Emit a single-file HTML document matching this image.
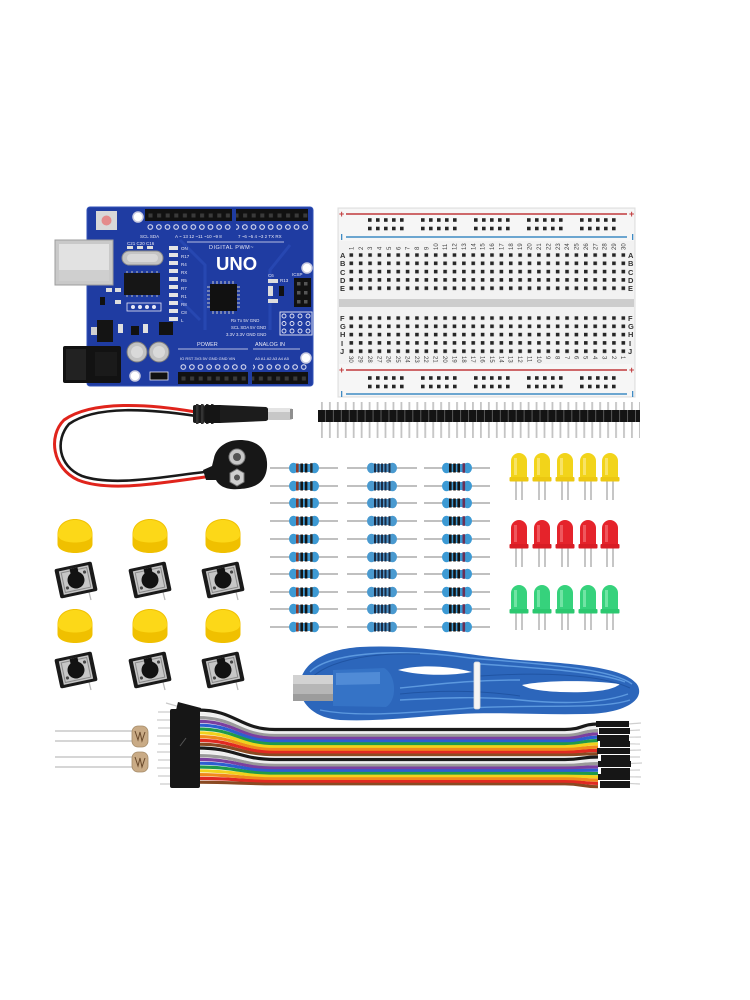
<!DOCTYPE html>
<html><head><meta charset="utf-8"><style>
html,body{margin:0;padding:0;background:#fff;}
svg{display:block;}
text{font-family:"Liberation Sans",sans-serif;}
</style></head><body>
<svg width="750" height="1000" viewBox="0 0 750 1000" xmlns="http://www.w3.org/2000/svg">
<defs>
 <pattern id="bbA" patternUnits="userSpaceOnUse" x="349.5" y="253.2" width="9.38" height="8.3"><rect width="3.6" height="3.6" fill="#262626"/></pattern>
 <pattern id="bbF" patternUnits="userSpaceOnUse" x="349.5" y="316.2" width="9.38" height="8.3"><rect width="3.6" height="3.6" fill="#262626"/></pattern>
 <pattern id="hdrPins" patternUnits="userSpaceOnUse" x="318" y="0" width="7.95" height="1000"><rect x="3" y="0" width="1.8" height="1000" fill="#c4c4c4"/></pattern>
 <pattern id="hdrBand" patternUnits="userSpaceOnUse" x="318" y="0" width="7.95" height="1000"><rect x="0" y="0" width="7.1" height="1000" fill="#141414"/><rect x="7.1" y="0" width="0.85" height="1000" fill="#4a4a4a"/></pattern>
 <pattern id="ardHdr" patternUnits="userSpaceOnUse" x="146" y="211" width="8.6" height="20"><rect x="2.5" y="2.5" width="4" height="4" fill="#3a3a3a"/></pattern>
 <pattern id="ardHdrB" patternUnits="userSpaceOnUse" x="179" y="374" width="8.6" height="20"><rect x="2.5" y="2.5" width="4" height="4" fill="#3a3a3a"/></pattern>
 <pattern id="ardRing" patternUnits="userSpaceOnUse" x="146" y="223" width="8.6" height="10"><circle cx="4.3" cy="4" r="2.3" fill="none" stroke="#e8e8f5" stroke-width="1"/></pattern>
 <pattern id="ardRingB" patternUnits="userSpaceOnUse" x="179" y="363" width="8.6" height="10"><circle cx="4.3" cy="4" r="2.3" fill="none" stroke="#e8e8f5" stroke-width="1"/></pattern>
 <g id="rg">
  <rect x="0" y="0" width="3.6" height="3.6" fill="#262626"/><rect x="8" y="0" width="3.6" height="3.6" fill="#262626"/><rect x="16" y="0" width="3.6" height="3.6" fill="#262626"/><rect x="24" y="0" width="3.6" height="3.6" fill="#262626"/><rect x="32" y="0" width="3.6" height="3.6" fill="#262626"/>
  <rect x="0" y="8.5" width="3.6" height="3.6" fill="#262626"/><rect x="8" y="8.5" width="3.6" height="3.6" fill="#262626"/><rect x="16" y="8.5" width="3.6" height="3.6" fill="#262626"/><rect x="24" y="8.5" width="3.6" height="3.6" fill="#262626"/><rect x="32" y="8.5" width="3.6" height="3.6" fill="#262626"/>
 </g>
 <g id="res1">
  <line x1="-34" y1="0" x2="34" y2="0" stroke="#9a9a9a" stroke-width="1.3"/>
  <rect x="-12" y="-4" width="24" height="8" fill="#3d96cf"/>
  <ellipse cx="-10.5" cy="0" rx="4.5" ry="5.3" fill="#3d9ad4"/>
  <ellipse cx="10.5" cy="0" rx="4.5" ry="5.3" fill="#3d9ad4"/>
  <rect x="-8" y="-4.5" width="2.6" height="9" fill="#8b3a2a"/>
  <rect x="-3.6" y="-4.5" width="2.6" height="9" fill="#151515"/>
  <rect x="0.8" y="-4.5" width="2.6" height="9" fill="#151515"/>
  <rect x="6.2" y="-4.8" width="2.4" height="9.6" fill="#2a2a2a"/>
 </g>
 <g id="res2">
  <line x1="-35" y1="0" x2="35" y2="0" stroke="#9a9a9a" stroke-width="1.3"/>
  <rect x="-12" y="-4" width="24" height="8" fill="#4a8fc4"/>
  <ellipse cx="-10.5" cy="0" rx="4.5" ry="5.3" fill="#4a9ad0"/>
  <ellipse cx="10.5" cy="0" rx="4.5" ry="5.3" fill="#4a9ad0"/>
  <rect x="-8" y="-4.5" width="2" height="9" fill="#1c2d45"/>
  <rect x="-4.5" y="-4.5" width="2" height="9" fill="#1c2d45"/>
  <rect x="-1" y="-4.5" width="2" height="9" fill="#1c2d45"/>
  <rect x="2.5" y="-4.5" width="2" height="9" fill="#1c2d45"/>
  <rect x="6.5" y="-4.8" width="2" height="9.6" fill="#1c2d45"/>
 </g>
 <g id="res3">
  <line x1="-33" y1="0" x2="33" y2="0" stroke="#9a9a9a" stroke-width="1.3"/>
  <rect x="-12" y="-4" width="24" height="8" fill="#3d96cf"/>
  <ellipse cx="-10.5" cy="0" rx="4.5" ry="5.3" fill="#3d9ad4"/>
  <ellipse cx="10.5" cy="0" rx="4.5" ry="5.3" fill="#3d9ad4"/>
  <rect x="-8" y="-4.5" width="2.6" height="9" fill="#151515"/>
  <rect x="-3.8" y="-4.5" width="2.6" height="9" fill="#151515"/>
  <rect x="0.4" y="-4.5" width="2.6" height="9" fill="#151515"/>
  <rect x="5.5" y="-4.8" width="2.6" height="9.6" fill="#6a2f55"/>
 </g>
 <g id="ledY">
  <line x1="-3" y1="28" x2="-3" y2="47" stroke="#a8a8a8" stroke-width="1.3"/>
  <line x1="3" y1="28" x2="3" y2="47" stroke="#a8a8a8" stroke-width="1.3"/>
  <path d="M-8,27 V8 A8,8 0 0 1 8,8 V27 Z" fill="#f2d41a"/>
  <rect x="-9.5" y="24" width="19" height="4.5" rx="1" fill="#ecc812"/>
  <rect x="-5" y="5" width="3" height="17" fill="#fbea86" opacity=".7"/>
 </g>
 <g id="ledR">
  <line x1="-3" y1="28" x2="-3" y2="47" stroke="#a8a8a8" stroke-width="1.3"/>
  <line x1="3" y1="28" x2="3" y2="47" stroke="#a8a8a8" stroke-width="1.3"/>
  <path d="M-8,27 V8 A8,8 0 0 1 8,8 V27 Z" fill="#e5232b"/>
  <rect x="-9.5" y="24" width="19" height="4.5" rx="1" fill="#d81d25"/>
  <rect x="-5" y="5" width="3" height="17" fill="#f57a7e" opacity=".6"/>
 </g>
 <g id="ledG">
  <line x1="-3" y1="28" x2="-3" y2="45" stroke="#a8a8a8" stroke-width="1.3"/>
  <line x1="3" y1="28" x2="3" y2="45" stroke="#a8a8a8" stroke-width="1.3"/>
  <path d="M-8,27 V8 A8,8 0 0 1 8,8 V27 Z" fill="#36d27c"/>
  <rect x="-9.5" y="24" width="19" height="4.5" rx="1" fill="#2cc870"/>
  <rect x="-5" y="5" width="3" height="17" fill="#9af0c0" opacity=".6"/>
 </g>
 <g id="cap">
  <path d="M-17.5,-2 C-17.5,-22 17.5,-22 17.5,-2 L17.5,8 C17.5,20 -17.5,20 -17.5,8 Z" fill="#f0c000"/>
  <path d="M-17,-1 C-17,-21 17,-21 17,-1 C17,9 -17,9 -17,-1 Z" fill="#fcd818"/>
 </g>
 <g id="sw">
  <line x1="13" y1="12" x2="15" y2="20" stroke="#bbb" stroke-width="1.3"/>
  <line x1="-12" y1="13" x2="-11" y2="18" stroke="#bbb" stroke-width="1.3"/>
  <g transform="rotate(-12)">
   <rect x="-19" y="-15" width="38" height="30" rx="2" fill="#1a1a1a"/>
   <rect x="-15" y="-12" width="30" height="24" fill="#c6c6c6"/>
   <rect x="-13" y="-10" width="26" height="20" fill="none" stroke="#8a8a8a" stroke-width="1"/>
   <circle cx="0" cy="0" r="8.5" fill="#121212"/>
   <rect x="-4" y="-12" width="8" height="6" fill="#121212"/>
   <circle cx="-10" cy="6" r="1.6" fill="#444"/>
   <circle cx="10" cy="-6" r="1.6" fill="#444"/>
  </g>
 </g>
</defs>

<rect x="0" y="0" width="750" height="1000" fill="#fff"/>

<!-- ============ ARDUINO ============ -->
<g>
 <rect x="87" y="207" width="226" height="179" rx="3" fill="#1f3ca2" stroke="#3152b8" stroke-width="1"/>
 <path d="M180,240 L205,265 L205,330 M290,245 L270,270 L270,330 M180,300 L200,320" stroke="#2b4cb8" stroke-width="3" fill="none" opacity=".7"/>
 <circle cx="138" cy="217" r="5" fill="#fff" stroke="#c9cbe0" stroke-width="1.5"/>
 <circle cx="307" cy="268" r="5" fill="#fff" stroke="#c9cbe0" stroke-width="1.5"/>
 <circle cx="306" cy="358" r="5" fill="#fff" stroke="#c9cbe0" stroke-width="1.5"/>
 <circle cx="135" cy="376" r="5" fill="#fff" stroke="#c9cbe0" stroke-width="1.5"/>
 <rect x="96" y="211" width="21" height="19" fill="#d8d8d8"/>
 <circle cx="106.5" cy="220.5" r="5" fill="#e48b8b"/>
 <rect x="145" y="209" width="87" height="12" fill="#111"/>
 <rect x="145" y="209" width="87" height="12" fill="url(#ardHdr)"/>
 <rect x="236" y="209" width="72" height="12" fill="#111"/>
 <rect x="236" y="209" width="72" height="12" fill="url(#ardHdr)"/>
 <rect x="146" y="223" width="86" height="9" fill="url(#ardRing)"/>
 <rect x="236" y="223" width="72" height="9" fill="url(#ardRing)"/>
 <text x="140" y="238" font-size="4.5" fill="#e8e8f5">SCL SDA</text>
 <text x="175" y="238" font-size="4.5" fill="#e8e8f5">A  ~  13  12  ~11 ~10 ~9  8</text>
 <text x="238" y="238" font-size="4.5" fill="#e8e8f5">7 ~6 ~5  4 ~3  2  TX RX</text>
 <line x1="187" y1="242" x2="284" y2="242" stroke="#e8e8f5" stroke-width="0.8"/>
 <text x="209" y="249" font-size="5.5" fill="#e8e8f5" letter-spacing="0.5">DIGITAL PWM~</text>
 <text x="216" y="270" font-size="18.5" font-weight="bold" fill="#ffffff">UNO</text>
 <rect x="55" y="240" width="58" height="45" fill="#c9c9c9" stroke="#9d9d9d"/>
 <rect x="59" y="244" width="50" height="37" fill="#e2e2e2"/>
 <rect x="59" y="270" width="50" height="11" fill="#cfcfcf"/>
 <text x="127" y="245" font-size="4.5" fill="#e8e8f5">C21 C20 C16</text>
 <rect x="127" y="246" width="6" height="3" fill="#ddd"/><rect x="137" y="246" width="6" height="3" fill="#ddd"/><rect x="147" y="246" width="6" height="3" fill="#ddd"/>
 <rect x="122" y="251" width="41" height="14" rx="7" fill="#c4c4c4" stroke="#8a8a8a"/>
 <rect x="127" y="254" width="31" height="8" rx="4" fill="#d8d8d8"/>
 <rect x="124" y="273" width="36" height="22" fill="#161616"/>
 <g stroke="#bbb" stroke-width="1">
  <line x1="127" y1="271" x2="127" y2="273"/><line x1="132" y1="271" x2="132" y2="273"/><line x1="137" y1="271" x2="137" y2="273"/><line x1="142" y1="271" x2="142" y2="273"/><line x1="147" y1="271" x2="147" y2="273"/><line x1="152" y1="271" x2="152" y2="273"/><line x1="157" y1="271" x2="157" y2="273"/>
  <line x1="127" y1="295" x2="127" y2="297"/><line x1="132" y1="295" x2="132" y2="297"/><line x1="137" y1="295" x2="137" y2="297"/><line x1="142" y1="295" x2="142" y2="297"/><line x1="147" y1="295" x2="147" y2="297"/><line x1="152" y1="295" x2="152" y2="297"/><line x1="157" y1="295" x2="157" y2="297"/>
 </g>
 <g fill="#e4e4e4">
  <rect x="169" y="246" width="9" height="4"/><rect x="169" y="253" width="9" height="4"/><rect x="169" y="261" width="9" height="4"/><rect x="169" y="269" width="9" height="4"/><rect x="169" y="277" width="9" height="4"/><rect x="169" y="285" width="9" height="4"/><rect x="169" y="293" width="9" height="4"/><rect x="169" y="301" width="9" height="4"/><rect x="169" y="309" width="9" height="4"/><rect x="169" y="317" width="9" height="4"/>
 </g>
 <text x="181" y="250" font-size="4.5" fill="#e8e8f5">ON</text>
 <text x="181" y="258" font-size="4.5" fill="#e8e8f5">R17</text>
 <text x="181" y="266" font-size="4.5" fill="#e8e8f5">R4</text>
 <text x="181" y="274" font-size="4.5" fill="#e8e8f5">RX</text>
 <text x="181" y="282" font-size="4.5" fill="#e8e8f5">R5</text>
 <text x="181" y="290" font-size="4.5" fill="#e8e8f5">R7</text>
 <text x="181" y="298" font-size="4.5" fill="#e8e8f5">R1</text>
 <text x="181" y="306" font-size="4.5" fill="#e8e8f5">R8</text>
 <text x="181" y="314" font-size="4.5" fill="#e8e8f5">C8</text>
 <text x="181" y="322" font-size="4.5" fill="#e8e8f5">L</text>
 <rect x="106" y="288" width="6" height="4" fill="#ddd"/><rect x="115" y="288" width="6" height="4" fill="#ddd"/>
 <rect x="100" y="297" width="5" height="8" fill="#111"/><rect x="115" y="300" width="6" height="4" fill="#ddd"/>
 <rect x="97" y="320" width="16" height="22" fill="#141414"/>
 <rect x="91" y="327" width="6" height="8" fill="#d0d0d0"/>
 <rect x="127" y="303" width="34" height="8" fill="none" stroke="#e8e8f5" stroke-width="0.8"/>
 <circle cx="133" cy="307" r="2" fill="#e8e8f5"/><circle cx="140" cy="307" r="2" fill="#e8e8f5"/><circle cx="147" cy="307" r="2" fill="#e8e8f5"/><circle cx="154" cy="307" r="2" fill="#e8e8f5"/>
 <rect x="118" y="324" width="5" height="9" fill="#e0e0e0"/>
 <rect x="131" y="326" width="8" height="9" fill="#111"/>
 <rect x="143" y="324" width="5" height="9" fill="#e0e0e0"/>
 <rect x="159" y="322" width="14" height="13" fill="#121212"/>
 <g stroke="#c8c8c8" stroke-width="1">
  <line x1="213" y1="281" x2="213" y2="314"/><line x1="217" y1="281" x2="217" y2="314"/><line x1="221" y1="281" x2="221" y2="314"/><line x1="225" y1="281" x2="225" y2="314"/><line x1="229" y1="281" x2="229" y2="314"/><line x1="233" y1="281" x2="233" y2="314"/>
  <line x1="207" y1="287" x2="240" y2="287"/><line x1="207" y1="291" x2="240" y2="291"/><line x1="207" y1="295" x2="240" y2="295"/><line x1="207" y1="299" x2="240" y2="299"/><line x1="207" y1="303" x2="240" y2="303"/><line x1="207" y1="307" x2="240" y2="307"/>
 </g>
 <rect x="210" y="284" width="27" height="27" fill="#111"/>
 <text x="268" y="277" font-size="4.5" fill="#e8e8f5">C6</text>
 <rect x="268" y="279" width="10" height="4" fill="#ddd"/>
 <text x="280" y="282" font-size="4.5" fill="#e8e8f5">R13</text>
 <rect x="268" y="286" width="5" height="10" fill="#ddd"/><rect x="279" y="286" width="5" height="10" fill="#111"/>
 <rect x="268" y="299" width="10" height="4" fill="#ddd"/>
 <text x="292" y="276" font-size="4.5" fill="#e8e8f5">ICSP</text>
 <rect x="294" y="278" width="17" height="29" fill="#111"/>
 <rect x="297" y="282" width="3.5" height="3.5" fill="#555"/><rect x="304" y="282" width="3.5" height="3.5" fill="#555"/>
 <rect x="297" y="291" width="3.5" height="3.5" fill="#555"/><rect x="304" y="291" width="3.5" height="3.5" fill="#555"/>
 <rect x="297" y="300" width="3.5" height="3.5" fill="#555"/><rect x="304" y="300" width="3.5" height="3.5" fill="#555"/>
 <g fill="none" stroke="#e8e8f5" stroke-width="0.9">
  <rect x="280" y="312" width="32" height="23"/>
  <circle cx="284" cy="316" r="2"/><circle cx="292" cy="316" r="2"/><circle cx="300" cy="316" r="2"/><circle cx="308" cy="316" r="2"/>
  <circle cx="284" cy="323.5" r="2"/><circle cx="292" cy="323.5" r="2"/><circle cx="300" cy="323.5" r="2"/><circle cx="308" cy="323.5" r="2"/>
  <circle cx="284" cy="331" r="2"/><circle cx="292" cy="331" r="2"/><circle cx="300" cy="331" r="2"/><circle cx="308" cy="331" r="2"/>
 </g>
 <text x="231" y="322" font-size="4.3" fill="#e8e8f5">Rx  Tx  5V  GND</text>
 <text x="231" y="329" font-size="4.3" fill="#e8e8f5">SCL SDA 5V GND</text>
 <text x="226" y="336" font-size="4.3" fill="#e8e8f5">3.3V 3.3V GND GND</text>
 <circle cx="137" cy="352" r="10" fill="#c2c2c2" stroke="#7c7c7c"/>
 <circle cx="137" cy="352" r="6" fill="#d9d9d9"/>
 <circle cx="159" cy="352" r="10" fill="#c2c2c2" stroke="#7c7c7c"/>
 <circle cx="159" cy="352" r="6" fill="#d9d9d9"/>
 <rect x="150" y="372" width="18" height="8" fill="#111" stroke="#e8e8f5" stroke-width="0.8"/>
 <text x="197" y="346" font-size="5.5" fill="#e8e8f5">POWER</text>
 <line x1="178" y1="349" x2="248" y2="349" stroke="#e8e8f5" stroke-width="0.8"/>
 <text x="255" y="346" font-size="5.5" fill="#e8e8f5">ANALOG IN</text>
 <line x1="253" y1="349" x2="300" y2="349" stroke="#e8e8f5" stroke-width="0.8"/>
 <text x="180" y="360" font-size="4" fill="#e8e8f5">    IO  RST 3V3 5V GND GND VIN</text>
 <text x="255" y="360" font-size="4" fill="#e8e8f5">A0 A1 A2 A3 A4 A5</text>
 <rect x="179" y="363" width="69" height="9" fill="url(#ardRingB)"/>
 <rect x="253" y="363" width="55" height="9" fill="url(#ardRingB)"/>
 <rect x="178" y="372" width="70" height="12" fill="#111"/>
 <rect x="178" y="372" width="70" height="12" fill="url(#ardHdrB)"/>
 <rect x="252" y="372" width="56" height="12" fill="#111"/>
 <rect x="252" y="372" width="56" height="12" fill="url(#ardHdrB)"/>
 <rect x="63" y="346" width="58" height="37" rx="2" fill="#121212"/>
 <rect x="66" y="349" width="20" height="31" fill="#222"/>
 <rect x="95" y="352" width="22" height="24" fill="#1a1a1a"/>
</g>

<!-- ============ BREADBOARD ============ -->
<g>
 <rect x="338" y="208" width="297" height="189" fill="#f2f2f2" stroke="#dcdcdc"/>
 <rect x="339" y="209" width="295" height="32" fill="#f6f6f6"/>
 <rect x="339" y="364" width="295" height="32" fill="#f6f6f6"/>
 <line x1="346" y1="214" x2="627" y2="214" stroke="#c0393b" stroke-width="1.6"/>
 <line x1="346" y1="237" x2="627" y2="237" stroke="#3f8bc4" stroke-width="1.6"/>
 <line x1="346" y1="370" x2="627" y2="370" stroke="#c0393b" stroke-width="1.6"/>
 <line x1="346" y1="394" x2="627" y2="394" stroke="#3f8bc4" stroke-width="1.6"/>
 <text x="339" y="217" font-size="9" fill="#c0393b" font-weight="bold">+</text>
 <text x="629" y="217" font-size="9" fill="#c0393b" font-weight="bold">+</text>
 <text x="339" y="373" font-size="9" fill="#c0393b" font-weight="bold">+</text>
 <text x="629" y="373" font-size="9" fill="#c0393b" font-weight="bold">+</text>
 <rect x="341" y="234" width="1.3" height="6" fill="#3f8bc4"/><rect x="632" y="234" width="1.3" height="6" fill="#3f8bc4"/>
 <rect x="341" y="391" width="1.3" height="6" fill="#3f8bc4"/><rect x="632" y="391" width="1.3" height="6" fill="#3f8bc4"/>
 <use href="#rg" x="368" y="218.2"/><use href="#rg" x="421" y="218.2"/><use href="#rg" x="474" y="218.2"/><use href="#rg" x="527" y="218.2"/><use href="#rg" x="580" y="218.2"/>
 <use href="#rg" x="368" y="376.2"/><use href="#rg" x="421" y="376.2"/><use href="#rg" x="474" y="376.2"/><use href="#rg" x="527" y="376.2"/><use href="#rg" x="580" y="376.2"/>
 <rect x="349.5" y="253.2" width="280" height="40" fill="url(#bbA)"/>
 <rect x="349.5" y="316.2" width="280" height="40" fill="url(#bbF)"/>
 <rect x="339" y="299" width="295" height="8" fill="#cdcdcd"/>
 <g font-size="7.5" fill="#333" font-weight="bold">
  <text x="340" y="258">A</text><text x="340" y="266">B</text><text x="340" y="275">C</text><text x="340" y="283">D</text><text x="340" y="291">E</text>
  <text x="628" y="258">A</text><text x="628" y="266">B</text><text x="628" y="275">C</text><text x="628" y="283">D</text><text x="628" y="291">E</text>
  <text x="340" y="321">F</text><text x="340" y="329">G</text><text x="340" y="337">H</text><text x="341" y="346">I</text><text x="340" y="354">J</text>
  <text x="628" y="321">F</text><text x="628" y="329">G</text><text x="628" y="337">H</text><text x="629" y="346">I</text><text x="628" y="354">J</text>
 </g>
 <g font-size="6" fill="#444">
  <text transform="translate(353.4,250) rotate(-90)">1</text>
  <text transform="translate(362.8,250) rotate(-90)">2</text>
  <text transform="translate(372.2,250) rotate(-90)">3</text>
  <text transform="translate(381.5,250) rotate(-90)">4</text>
  <text transform="translate(390.9,250) rotate(-90)">5</text>
  <text transform="translate(400.3,250) rotate(-90)">6</text>
  <text transform="translate(409.7,250) rotate(-90)">7</text>
  <text transform="translate(419.0,250) rotate(-90)">8</text>
  <text transform="translate(428.4,250) rotate(-90)">9</text>
  <text transform="translate(437.8,250) rotate(-90)">10</text>
  <text transform="translate(447.2,250) rotate(-90)">11</text>
  <text transform="translate(456.6,250) rotate(-90)">12</text>
  <text transform="translate(466.0,250) rotate(-90)">13</text>
  <text transform="translate(475.3,250) rotate(-90)">14</text>
  <text transform="translate(484.7,250) rotate(-90)">15</text>
  <text transform="translate(494.1,250) rotate(-90)">16</text>
  <text transform="translate(503.5,250) rotate(-90)">17</text>
  <text transform="translate(512.9,250) rotate(-90)">18</text>
  <text transform="translate(522.2,250) rotate(-90)">19</text>
  <text transform="translate(531.6,250) rotate(-90)">20</text>
  <text transform="translate(541.0,250) rotate(-90)">21</text>
  <text transform="translate(550.4,250) rotate(-90)">22</text>
  <text transform="translate(559.8,250) rotate(-90)">23</text>
  <text transform="translate(569.1,250) rotate(-90)">24</text>
  <text transform="translate(578.5,250) rotate(-90)">25</text>
  <text transform="translate(587.9,250) rotate(-90)">26</text>
  <text transform="translate(597.3,250) rotate(-90)">27</text>
  <text transform="translate(606.7,250) rotate(-90)">28</text>
  <text transform="translate(616.0,250) rotate(-90)">29</text>
  <text transform="translate(625.4,250) rotate(-90)">30</text>
  <text transform="translate(349.2,356) rotate(90)">30</text>
  <text transform="translate(358.6,356) rotate(90)">29</text>
  <text transform="translate(368.0,356) rotate(90)">28</text>
  <text transform="translate(377.3,356) rotate(90)">27</text>
  <text transform="translate(386.7,356) rotate(90)">26</text>
  <text transform="translate(396.1,356) rotate(90)">25</text>
  <text transform="translate(405.5,356) rotate(90)">24</text>
  <text transform="translate(414.8,356) rotate(90)">23</text>
  <text transform="translate(424.2,356) rotate(90)">22</text>
  <text transform="translate(433.6,356) rotate(90)">21</text>
  <text transform="translate(443.0,356) rotate(90)">20</text>
  <text transform="translate(452.4,356) rotate(90)">19</text>
  <text transform="translate(461.8,356) rotate(90)">18</text>
  <text transform="translate(471.1,356) rotate(90)">17</text>
  <text transform="translate(480.5,356) rotate(90)">16</text>
  <text transform="translate(489.9,356) rotate(90)">15</text>
  <text transform="translate(499.3,356) rotate(90)">14</text>
  <text transform="translate(508.7,356) rotate(90)">13</text>
  <text transform="translate(518.0,356) rotate(90)">12</text>
  <text transform="translate(527.4,356) rotate(90)">11</text>
  <text transform="translate(536.8,356) rotate(90)">10</text>
  <text transform="translate(546.2,356) rotate(90)">9</text>
  <text transform="translate(555.6,356) rotate(90)">8</text>
  <text transform="translate(564.9,356) rotate(90)">7</text>
  <text transform="translate(574.3,356) rotate(90)">6</text>
  <text transform="translate(583.7,356) rotate(90)">5</text>
  <text transform="translate(593.1,356) rotate(90)">4</text>
  <text transform="translate(602.5,356) rotate(90)">3</text>
  <text transform="translate(611.8,356) rotate(90)">2</text>
  <text transform="translate(621.2,356) rotate(90)">1</text>
 </g>
</g>

<!-- ============ PIN HEADER ============ -->
<rect x="318" y="402" width="322" height="36" fill="url(#hdrPins)"/>
<rect x="318" y="410" width="322" height="12" fill="url(#hdrBand)"/>

<!-- ============ BATTERY CLIP ============ -->
<g fill="none" stroke-linecap="round">
 <path d="M196,412 C150,404 92,400 64,420 C48,436 52,468 78,480 C112,494 176,480 214,476" stroke="#e0241c" stroke-width="3"/>
 <path d="M196,416 C150,409 96,405 69,424 C55,440 58,466 82,476 C116,488 178,474 214,471" stroke="#1a1a1a" stroke-width="2.6"/>
</g>
<g>
 <rect x="193" y="405" width="12" height="18" rx="2" fill="#1a1a1a"/>
 <rect x="196" y="404" width="2.5" height="20" fill="#333"/><rect x="201" y="404" width="2.5" height="20" fill="#333"/><rect x="206" y="404" width="2.5" height="20" fill="#333"/><rect x="211" y="404" width="2.5" height="20" fill="#333"/>
 <rect x="205" y="405" width="16" height="18" fill="#151515"/>
 <path d="M220,405 L266,407 C270,408 271,420 266,421 L220,423 Z" fill="#1c1c1c"/>
 <rect x="268" y="408" width="24" height="12" rx="1.5" fill="#c7c7c7"/>
 <rect x="268" y="408" width="24" height="4" fill="#e4e4e4"/>
 <rect x="290" y="409" width="3" height="10" fill="#8f8f8f"/>
 <path d="M212,466 L203,470 L206,480 L216,480 C220,488 230,490 240,489 C260,488 268,478 267,462 C266,448 256,440 240,440 C226,440 216,448 214,458 Z" fill="#171717"/>
 <circle cx="237" cy="457" r="8" fill="#c8c8c8" stroke="#7a7a7a"/>
 <circle cx="237" cy="457" r="4" fill="#555"/>
 <polygon points="237,469 244,473 244,482 237,486 230,482 230,473" fill="#cfcfcf" stroke="#777"/>
 <circle cx="237" cy="477.5" r="3" fill="#555"/>
</g>

<!-- ============ RESISTORS ============ -->
<g>
 <use href="#res1" x="304" y="468"/><use href="#res1" x="304" y="486"/><use href="#res1" x="304" y="503"/><use href="#res1" x="304" y="521"/><use href="#res1" x="304" y="539"/><use href="#res1" x="304" y="557"/><use href="#res1" x="304" y="574"/><use href="#res1" x="304" y="592"/><use href="#res1" x="304" y="609"/><use href="#res1" x="304" y="627"/>
 <use href="#res2" x="382" y="468"/><use href="#res2" x="382" y="486"/><use href="#res2" x="382" y="503"/><use href="#res2" x="382" y="521"/><use href="#res2" x="382" y="539"/><use href="#res2" x="382" y="557"/><use href="#res2" x="382" y="574"/><use href="#res2" x="382" y="592"/><use href="#res2" x="382" y="609"/><use href="#res2" x="382" y="627"/>
 <use href="#res3" x="457" y="468"/><use href="#res3" x="457" y="486"/><use href="#res3" x="457" y="503"/><use href="#res3" x="457" y="521"/><use href="#res3" x="457" y="539"/><use href="#res3" x="457" y="557"/><use href="#res3" x="457" y="574"/><use href="#res3" x="457" y="592"/><use href="#res3" x="457" y="609"/><use href="#res3" x="457" y="627"/>
</g>

<!-- ============ LEDs ============ -->
<g>
 <use href="#ledY" x="519" y="453"/><use href="#ledY" x="542" y="453"/><use href="#ledY" x="565" y="453"/><use href="#ledY" x="588" y="453"/><use href="#ledY" x="610" y="453"/>
 <use href="#ledR" x="519" y="520"/><use href="#ledR" x="542" y="520"/><use href="#ledR" x="565" y="520"/><use href="#ledR" x="588" y="520"/><use href="#ledR" x="610" y="520"/>
 <use href="#ledG" x="519" y="585"/><use href="#ledG" x="542" y="585"/><use href="#ledG" x="565" y="585"/><use href="#ledG" x="588" y="585"/><use href="#ledG" x="610" y="585"/>
</g>

<!-- ============ BUTTONS ============ -->
<g>
 <use href="#cap" x="75" y="536"/><use href="#cap" x="150" y="536"/><use href="#cap" x="223" y="536"/>
 <use href="#sw" x="76" y="580"/><use href="#sw" x="150" y="580"/><use href="#sw" x="223" y="580"/>
 <use href="#cap" x="75" y="626"/><use href="#cap" x="150" y="626"/><use href="#cap" x="223" y="626"/>
 <use href="#sw" x="76" y="670"/><use href="#sw" x="150" y="670"/><use href="#sw" x="223" y="670"/>
</g>

<!-- ============ USB CABLE ============ -->
<g>
 <path d="M300,690 C298,668 318,650 360,647 C420,644 470,656 520,660 C580,664 628,668 638,686 C645,702 620,714 585,714 C540,715 500,712 460,714 C420,716 380,722 340,720 C315,718 302,705 300,690 Z" fill="#2c66bb"/>
 <path d="M522,685 C545,680 590,680 620,684 C612,691 590,693 560,692 C540,691 528,689 522,685 Z" fill="#fff"/>
 <path d="M398,670 C420,664 450,666 472,672 C450,676 420,676 398,670 Z" fill="#fff"/>
 <g fill="none" stroke="#69a6e8" stroke-width="1.4" opacity=".8">
  <path d="M310,672 C330,652 400,648 470,658 C540,664 610,668 632,684"/>
  <path d="M320,710 C360,718 420,712 470,708 C540,704 600,710 630,700"/>
  <path d="M400,688 C440,684 470,680 520,680"/>
  <path d="M400,700 C440,698 480,696 520,700 C560,704 600,704 628,694"/>
  <path d="M480,664 C540,668 600,672 625,682"/>
 </g>
 <g fill="none" stroke="#1b4d99" stroke-width="1" opacity=".7">
  <path d="M305,690 C310,665 360,652 420,654"/>
  <path d="M480,676 C540,672 600,674 630,688"/>
  <path d="M400,694 C440,690 480,690 520,696"/>
 </g>
 <rect x="474" y="662" width="6" height="47" rx="2" fill="#f5f5f5" stroke="#dadada" stroke-width="0.8"/>
 <rect x="293" y="675" width="42" height="26" fill="#b6b6b6"/>
 <rect x="293" y="675" width="42" height="9" fill="#d2d2d2"/>
 <rect x="293" y="694" width="42" height="7" fill="#9c9c9c"/>
 <path d="M333,670 L384,668 C396,674 398,700 386,707 L333,706 Z" fill="#3573c6"/>
 <path d="M336,673 L380,672 L380,684 L336,685 Z" fill="#5c96dd" opacity=".7"/>
</g>

<!-- ============ JUMPER WIRES ============ -->
<g fill="none" stroke-width="3.2">
 <path d="M198,782.2 C235,782.2 240,783.8 275,783.8 L565,783.8 C582,783.8 582,786.7 598,786.7" stroke="#8a4a22"/>
 <path d="M198,778.4 C235,778.4 240,781.1 275,781.1 L565,781.1 C582,781.1 582,783.4 598,783.4" stroke="#e02a22"/>
 <path d="M198,774.6 C235,774.6 240,778.4 275,778.4 L565,778.4 C582,778.4 582,780.1 598,780.1" stroke="#f08a1c"/>
 <path d="M198,770.8 C235,770.8 240,775.7 275,775.7 L565,775.7 C582,775.7 582,776.8 598,776.8" stroke="#f1d21c"/>
 <path d="M198,767 C235,767 240,773 275,773 L565,773 C582,773 582,773.5 598,773.5" stroke="#1f9a4a"/>
 <path d="M198,763.2 C235,763.2 240,770.3 275,770.3 L565,770.3 C582,770.3 582,770.2 598,770.2" stroke="#2c5fd0"/>
 <path d="M198,759.4 C235,759.4 240,767.6 275,767.6 L565,767.6 C582,767.6 582,766.9 598,766.9" stroke="#7b3fa0"/>
 <path d="M198,755.6 C235,755.6 240,764.9 275,764.9 L565,764.9 C582,764.9 582,763.6 598,763.6" stroke="#9a9a9a"/>
 <path d="M198,751.8 C235,751.8 240,762.2 275,762.2 L565,762.2 C582,762.2 582,760.3 598,760.3" stroke="#efefef"/>
 <path d="M198,748 C235,748 240,759.5 275,759.5 L565,759.5 C582,759.5 582,757 598,757" stroke="#1a1a1a"/>

 <path d="M198,744.2 C235,744.2 240,754.7 275,754.7 L565,754.7 C582,754.7 582,753.7 598,753.7" stroke="#8a4a22"/>
 <path d="M198,740.4 C235,740.4 240,751.9 275,751.9 L565,751.9 C582,751.9 582,750.4 598,750.4" stroke="#e02a22"/>
 <path d="M198,736.6 C235,736.6 240,749.1 275,749.1 L565,749.1 C582,749.1 582,747.1 598,747.1" stroke="#f08a1c"/>
 <path d="M198,732.8 C235,732.8 240,746.3 275,746.3 L565,746.3 C582,746.3 582,743.8 598,743.8" stroke="#f1d21c"/>
 <path d="M198,729 C235,729 240,743.5 275,743.5 L565,743.5 C582,743.5 582,740.5 598,740.5" stroke="#1f9a4a"/>
 <path d="M198,725.2 C235,725.2 240,740.7 275,740.7 L565,740.7 C582,740.7 582,737.2 598,737.2" stroke="#2c5fd0"/>
 <path d="M198,721.4 C235,721.4 240,737.9 275,737.9 L565,737.9 C582,737.9 582,733.9 598,733.9" stroke="#7b3fa0"/>
 <path d="M198,717.6 C235,717.6 240,735.1 275,735.1 L565,735.1 C582,735.1 582,730.6 598,730.6" stroke="#9a9a9a"/>
 <path d="M198,713.8 C235,713.8 240,732.3 275,732.3 L565,732.3 C582,732.3 582,727.3 598,727.3" stroke="#efefef"/>
 <path d="M198,710 C235,710 240,729.5 275,729.5 L565,729.5 C582,729.5 582,724 598,724" stroke="#1a1a1a"/>
</g>
<g stroke="#c9c9c9" stroke-width="1.2">
 <line x1="158" y1="712" x2="172" y2="712"/><line x1="157" y1="720" x2="172" y2="720"/><line x1="158" y1="728" x2="172" y2="728"/><line x1="157" y1="736" x2="172" y2="736"/><line x1="158" y1="744" x2="172" y2="744"/>
 <line x1="157" y1="752" x2="172" y2="752"/><line x1="158" y1="760" x2="172" y2="760"/><line x1="157" y1="768" x2="172" y2="768"/><line x1="158" y1="776" x2="172" y2="776"/><line x1="160" y1="784" x2="172" y2="784"/>
 <line x1="166" y1="703" x2="180" y2="707"/>
</g>
<path d="M178,702 L201,708 L199,716 L176,710 Z" fill="#161616"/>
<rect x="170" y="709" width="30" height="79" rx="2" fill="#161616"/>
<line x1="186" y1="738" x2="180" y2="746" stroke="#555" stroke-width="1"/>
<g>
 <g stroke="#cfcfcf" stroke-width="1.2">
  <line x1="628" y1="724" x2="641" y2="723"/><line x1="628" y1="730.6" x2="640" y2="730"/><line x1="628" y1="737.2" x2="641" y2="737"/><line x1="628" y1="743.8" x2="640" y2="744"/><line x1="628" y1="750.4" x2="641" y2="750"/>
  <line x1="628" y1="757" x2="640" y2="757"/><line x1="628" y1="763.6" x2="642" y2="763"/><line x1="628" y1="770.2" x2="640" y2="770"/><line x1="628" y1="776.8" x2="641" y2="777"/><line x1="628" y1="783.4" x2="640" y2="784"/>
 </g>
 <rect x="596" y="721" width="33" height="6" fill="#161616"/>
 <rect x="599" y="728" width="31" height="6" fill="#161616"/>
 <rect x="597" y="735" width="32" height="6" fill="#161616"/>
 <rect x="600" y="741" width="30" height="6" fill="#161616"/>
 <rect x="597" y="748" width="33" height="6" fill="#161616"/>
 <rect x="601" y="755" width="29" height="6" fill="#161616"/>
 <rect x="598" y="761" width="33" height="6" fill="#161616"/>
 <rect x="601" y="768" width="29" height="6" fill="#161616"/>
 <rect x="598" y="774" width="32" height="6" fill="#161616"/>
 <rect x="600" y="781" width="30" height="7" fill="#161616"/>
</g>

<!-- ============ LDRs ============ -->
<g stroke="#bdbdbd" stroke-width="1.2">
 <line x1="55" y1="731" x2="134" y2="731"/><line x1="55" y1="741" x2="134" y2="741"/>
 <line x1="55" y1="757" x2="134" y2="757"/><line x1="55" y1="767" x2="134" y2="767"/>
</g>
<rect x="132" y="726" width="16" height="21" rx="6" fill="#c9ab86" stroke="#a58c6a" stroke-width="0.8"/>
<path d="M135,731 L138,740 L140,732 L142,741 L145,732" fill="none" stroke="#6a4a2c" stroke-width="1"/>
<rect x="132" y="752" width="16" height="20" rx="6" fill="#c9ab86" stroke="#a58c6a" stroke-width="0.8"/>
<path d="M135,757 L138,766 L140,758 L142,767 L145,758" fill="none" stroke="#6a4a2c" stroke-width="1"/>
</svg>
</body></html>
